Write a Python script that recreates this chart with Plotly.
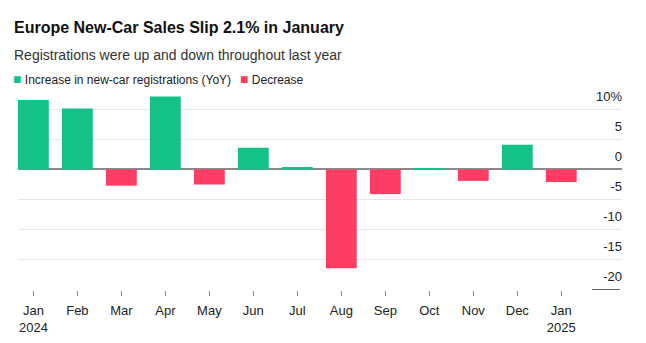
import plotly.graph_objects as go

# ---- data ----
months = ["Jan<br>2024", "Feb", "Mar", "Apr", "May", "Jun", "Jul", "Aug",
          "Sep", "Oct", "Nov", "Dec", "Jan<br>2025"]
yoy_change = [11.5, 10.1, -2.7, 12.1, -2.5, 3.6, 0.4, -16.4, -4.1, 0.1, -1.9, 4.1, -2.1]
y_ticks = [-20, -15, -10, -5, 0, 5, 10]
y_tick_text = ["-20", "-15", "-10", "-5", "0", "5", "10%"]

title = "Europe New-Car Sales Slip 2.1% in January"
subtitle = "Registrations were up and down throughout last year"
inc_name = "Increase in new-car registrations (YoY)"
dec_name = "Decrease"

GREEN = "#14c285"
RED = "#fd3d63"
FONT = "Liberation Sans, Arial, sans-serif"

W, H = 646, 343
Y_TOP = 14.0
ML, MR, MB = 18, 24, 53
# keep ~6.03 px per unit, zero at ~169.5px
MT = int(round(169.5 - Y_TOP * 6.03))
PW, PH = W - ML - MR, H - MT - MB

x = list(range(len(months)))
inc = [v if v >= 0 else None for v in yoy_change]
dec = [v if v < 0 else None for v in yoy_change]

fig = go.Figure()
fig.add_trace(go.Bar(x=x, y=inc, name=inc_name, marker=dict(color=GREEN, line_width=0),
                     width=0.7, showlegend=False))
fig.add_trace(go.Bar(x=x, y=dec, name=dec_name, marker=dict(color=RED, line_width=0),
                     width=0.7, showlegend=False))

def px_x(p):
    return (p - ML) / PW

def px_y(p):
    return 1 - (p - MT) / PH

def legend_item(label, color, xpx):
    return dict(text=f"<span style='color:{color};font-size:14px'>■</span> {label}",
                xref="paper", yref="paper", x=px_x(xpx), y=px_y(78.5),
                xanchor="left", yanchor="middle", showarrow=False,
                font=dict(size=12, color="#222", family=FONT))

fig.update_layout(
    width=W, height=H,
    margin=dict(l=ML, r=MR, t=MT, b=MB, autoexpand=False),
    paper_bgcolor="white", plot_bgcolor="white",
    font=dict(family=FONT, color="#222", size=13),
    barmode="relative",
    showlegend=False,
    xaxis=dict(range=[-0.35, 13.38], tickvals=x, ticktext=months, showgrid=False,
               zeroline=False, showline=False, ticks="outside", ticklen=5,
               tickcolor="#888", tickwidth=1, tickfont=dict(size=13, color="#222"),
               ticklabelstandoff=3, fixedrange=True),
    yaxis=dict(range=[-20, Y_TOP], side="right", tickvals=y_ticks, ticktext=y_tick_text,
               ticklabelposition="inside top", ticklabelshift=-4, ticklabelstandoff=-3,
               showgrid=True, gridcolor="#e6e6e6",
               gridwidth=1, zeroline=True, zerolinecolor="#8a8a8a", zerolinewidth=1.5,
               showline=False, ticks="", tickfont=dict(size=13, color="#222"),
               fixedrange=True),
    annotations=[
        dict(text="<b>" + title + "</b>", xref="paper", yref="paper", x=px_x(12), y=px_y(27.5),
             xanchor="left", yanchor="middle", showarrow=False,
             font=dict(size=16, color="#111", family=FONT)),
        dict(text=subtitle, xref="paper", yref="paper", x=px_x(12), y=px_y(55),
             xanchor="left", yanchor="middle", showarrow=False,
             font=dict(size=14, color="#333", family=FONT)),
        legend_item(inc_name, GREEN, 11),
        legend_item(dec_name, RED, 238),
    ],
    shapes=[
        dict(type="line", xref="paper", yref="y", x0=px_x(592), x1=px_x(620), y0=-20, y1=-20,
             line=dict(color="#333", width=1.5), layer="above"),
    ],
)

fig.write_html("out.html", config={"displayModeBar": False})
